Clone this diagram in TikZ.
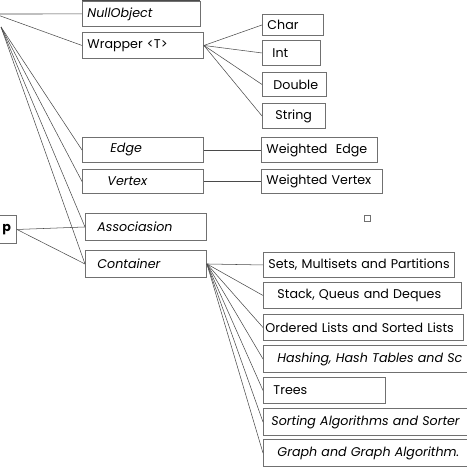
\documentclass[tikz,border=0pt]{standalone}
\usepackage{fontspec}
\setmainfont{Poppins}
\usepackage{xcolor}
\usepackage{tikz}
\definecolor{boxgray}{HTML}{707070}
\definecolor{linkgray}{HTML}{4a4a4a}
\newdimen\unitpx \unitpx=0.03cm

\tikzset{
  cls/.style 2 args={draw=boxgray, line width=0.8pt, inner xsep=0pt, inner ysep=0pt,
    text width=#1\unitpx, minimum height=#2\unitpx, align=left, anchor=north west,
    font=\fontsize{10.8}{12}\selectfont},
  link/.style={draw=linkgray, line width=0.45pt},
}

\begin{document}
\begin{tikzpicture}[x=0.03cm,y=-0.03cm]
  \useasboundingbox (0,0) rectangle (467,467);
  \clip (0,0) rectangle (467,467);
  \fill[white] (0,0) rectangle (467,467);

  \fill[linkgray] (82,0) rectangle (200,1.5);
  \node[cls={118}{25}] (nullobj) at (82,1) {\hspace*{5\unitpx}\itshape NullObject};
  \node[cls={121}{26}] (wrapper) at (82,32) {\hspace*{5\unitpx}Wrapper <T>};
  \node[cls={61}{21}] (char) at (262,14) {\hspace*{5\unitpx}Char};
  \node[cls={58}{25}] (int) at (262,40) {\hspace*{10\unitpx}Int};
  \node[cls={64}{24}] (double) at (262,72) {\hspace*{11\unitpx}Double};
  \node[cls={63}{25}] (string) at (262,103) {\hspace*{13\unitpx}String};

  \node[cls={121}{25}] (edge) at (82,137) {\hspace*{28\unitpx}\itshape Edge};
  \node[cls={121}{24}] (vertex) at (82,169) {\hspace*{25\unitpx}\itshape Vertex};
  \node[cls={116}{25}] (wedge) at (261,137) {\hspace*{5\unitpx}Weighted~~Edge};
  \node[cls={121}{24}] (wvertex) at (261,169) {\hspace*{5\unitpx}Weighted Vertex};
  \draw[boxgray, line width=0.6pt] (364,215) rectangle (370,221);

  \node[cls={46}{28}] (pbox) at (-30,215) {\hspace*{32\unitpx}\bfseries p};
  \node[cls={121}{27}] (assoc) at (85,213) {\hspace*{12\unitpx}\itshape Associasion};
  \node[cls={121}{27}] (container) at (85,250) {\hspace*{12\unitpx}\itshape Container};

  \node[cls={191}{25}] (sets) at (263,252) {\hspace*{5\unitpx}Sets, Multisets and Partitions};
  \node[cls={198}{26}] (stack) at (263,282) {\hspace*{14\unitpx}Stack, Queus and Deques};
  \node[cls={200}{26}] (ordered) at (263,314) {\hspace*{2\unitpx}Ordered Lists and Sorted Lists};
  \node[cls={260}{27}] (hashing) at (263,345) {\hspace*{14\unitpx}\itshape Hashing, Hash Tables and Sc};
  \node[cls={122}{26}] (trees) at (263,377) {\hspace*{10\unitpx}Trees};
  \node[cls={260}{27}] (sorting) at (263,408) {\hspace*{8\unitpx}\itshape Sorting Algorithms and Sorter};
  \node[cls={260}{27}] (graph) at (263,439) {\hspace*{14\unitpx}\itshape Graph and Graph Algorithm.};

  \coordinate (top) at (-5,14);
  \coordinate (fan) at (1,27);
  \draw[link] (top) -- (nullobj.west);
  \draw[link] (top) -- (wrapper.west);
  \draw[link] (fan) -- (edge.west);
  \draw[link] (fan) -- (vertex.west);
  \draw[link] (fan) -- (assoc.west);
  \draw[link] (fan) -- (container.west);
  \draw[link] (pbox.east) -- (assoc.west);
  \draw[link] (pbox.east) -- (container.west);

  \foreach \t in {char,int,double,string}
    \draw[link] (wrapper.east) -- (\t.west);
  \draw[link] (edge.east) -- (wedge.west);
  \draw[link] (vertex.east) -- (wvertex.west);
  \foreach \t in {sets,stack,ordered,hashing,trees,sorting,graph}
    \draw[link] (container.east) -- (\t.west);
\end{tikzpicture}
\end{document}
